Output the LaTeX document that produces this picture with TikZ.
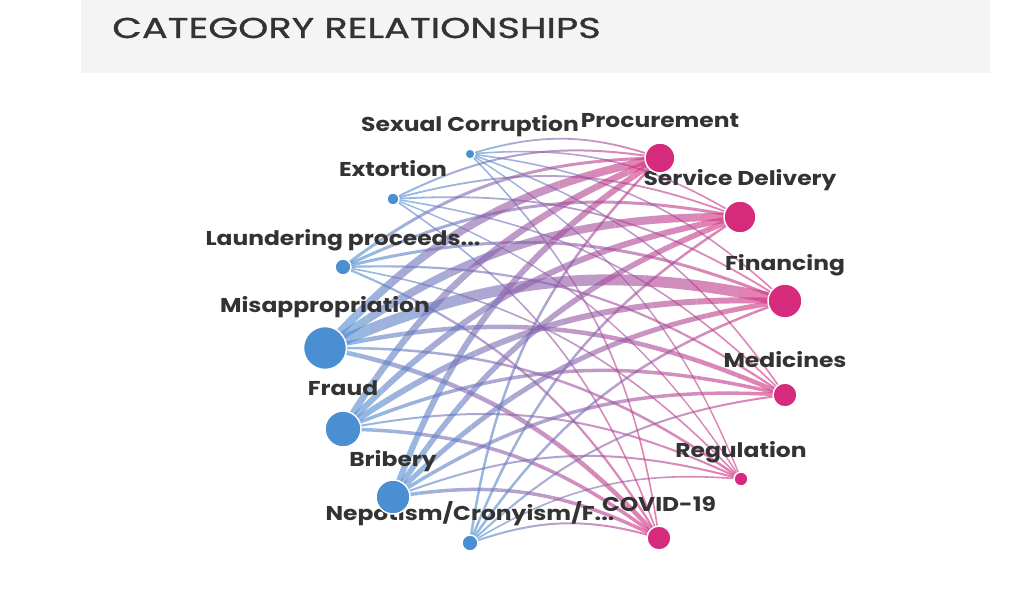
\documentclass[tikz,border=0pt]{standalone}
\usepackage{fontspec}
\setmainfont{Poppins}
\newfontfamily\labfont{Poppins}[FakeStretch=1.17]
\newfontfamily\ttlfont{Poppins}[FakeStretch=1.34,FakeBold=1]
\usetikzlibrary{calc}
\definecolor{myblue}{HTML}{4A8FD2}
\definecolor{mypink}{HTML}{D62A7C}
\definecolor{txt}{HTML}{333333}
\definecolor{hdr}{HTML}{F4F4F4}
\newcommand\gedge[3]{%
  \foreach \k in {0,...,9}{%
    \pgfmathtruncatemacro\pct{5+10*\k}%
    \begin{scope}
      \clip let \p1=(#1), \p2=(#2),
        \n1={ifthenelse(\k==0,-3000,\x1+(\x2-\x1)*\k/10)},
        \n2={ifthenelse(\k==9,3000,\x1+(\x2-\x1)*(\k+1)/10)} in
        (\n1,-3000pt) rectangle (\n2,3000pt);
      \draw[line width=#3*0.75pt, draw=mypink!\pct!myblue, draw opacity=0.6] (#1) to[bend left=18] (#2);
    \end{scope}
  }%
}
\begin{document}
\begin{tikzpicture}[x=0.75pt,y=-0.75pt,
  bdot/.style={circle, fill=myblue, draw=white, line width=1.1pt, minimum size=#1*1.5pt, inner sep=0pt},
  pdot/.style={circle, fill=mypink, draw=white, line width=1.1pt, minimum size=#1*1.5pt, inner sep=0pt},
  lab/.style={font=\labfont\fontsize{15}{18}\selectfont\bfseries, text=txt, anchor=base, inner sep=0pt},
  title/.style={font=\ttlfont\fontsize{21.5}{25}\selectfont, text=txt, anchor=base west, inner sep=0pt}]
\useasboundingbox[fill=white] (0,0) rectangle (1024,609);
\fill[hdr] (81,0) rectangle (990,73);
\node[title] (ttl) at (112,38) {CATEGORY RELATIONSHIPS};
% positions
\coordinate (SC) at (470,154);
\coordinate (EX) at (393,199);
\coordinate (LA) at (343,267);
\coordinate (MI) at (325,348);
\coordinate (FR) at (343,429);
\coordinate (BR) at (393,497);
\coordinate (NE) at (470,543);
\coordinate (PR) at (660,158);
\coordinate (SD) at (740,217);
\coordinate (FI) at (785,301);
\coordinate (ME) at (785,395);
\coordinate (RE) at (741,479);
\coordinate (CO) at (659,538);
% edges
\foreach \s/\t/\w in {
  SC/PR/1.8, SC/SD/1.6, SC/FI/1.6, SC/ME/1.6, SC/RE/1.4, SC/CO/1.6,
  EX/PR/2, EX/SD/1.8, EX/FI/1.8, EX/ME/1.6, EX/RE/1.4, EX/CO/1.6,
  LA/PR/3, LA/SD/3, LA/FI/3, LA/ME/2.2, LA/RE/1.6, LA/CO/2.2,
  MI/PR/8, MI/SD/8, MI/FI/11, MI/ME/4.5, MI/RE/2.5, MI/CO/4.5,
  FR/PR/6.5, FR/SD/6, FR/FI/6, FR/ME/3.5, FR/RE/2, FR/CO/3.5,
  BR/PR/6, BR/SD/5.5, BR/FI/5, BR/ME/3.5, BR/RE/2, BR/CO/3.5,
  NE/PR/2.5, NE/SD/2.5, NE/FI/2.5, NE/ME/2, NE/RE/1.6, NE/CO/2}{
  \gedge{\s}{\t}{\w}
}
% labels
\node[lab] (lSC) at (470,132) {Sexual Corruption};
\node[lab] (lEX) at (393,177) {Extortion};
\node[lab] (lLA) at (343,246) {Laundering proceeds...};
\node[lab] (lMI) at (325,313) {Misappropriation};
\node[lab] (lFR) at (343,396) {Fraud};
\node[lab] (lBR) at (393,466) {Bribery};
\node[lab] (lNE) at (470,520) {Nepotism/Cronyism/F...};
\node[lab] (lPR) at (660,128) {Procurement};
\node[lab] (lSD) at (740,186) {Service Delivery};
\node[lab] (lFI) at (785,271) {Financing};
\node[lab] (lME) at (785,368) {Medicines};
\node[lab] (lRE) at (741,457) {Regulation};
\node[lab] (lCO) at (659,511) {COVID-19};
% dots
\node[bdot=5] (nSC) at (SC) {};
\node[bdot=6] (nEX) at (EX) {};
\node[bdot=8] (nLA) at (LA) {};
\node[bdot=21.5] (nMI) at (MI) {};
\node[bdot=18] (nFR) at (FR) {};
\node[bdot=17] (nBR) at (BR) {};
\node[bdot=8] (nNE) at (NE) {};
\node[pdot=15] (nPR) at (PR) {};
\node[pdot=16] (nSD) at (SD) {};
\node[pdot=17] (nFI) at (FI) {};
\node[pdot=12] (nME) at (ME) {};
\node[pdot=7] (nRE) at (RE) {};
\node[pdot=12] (nCO) at (CO) {};
\end{tikzpicture}
\end{document}
